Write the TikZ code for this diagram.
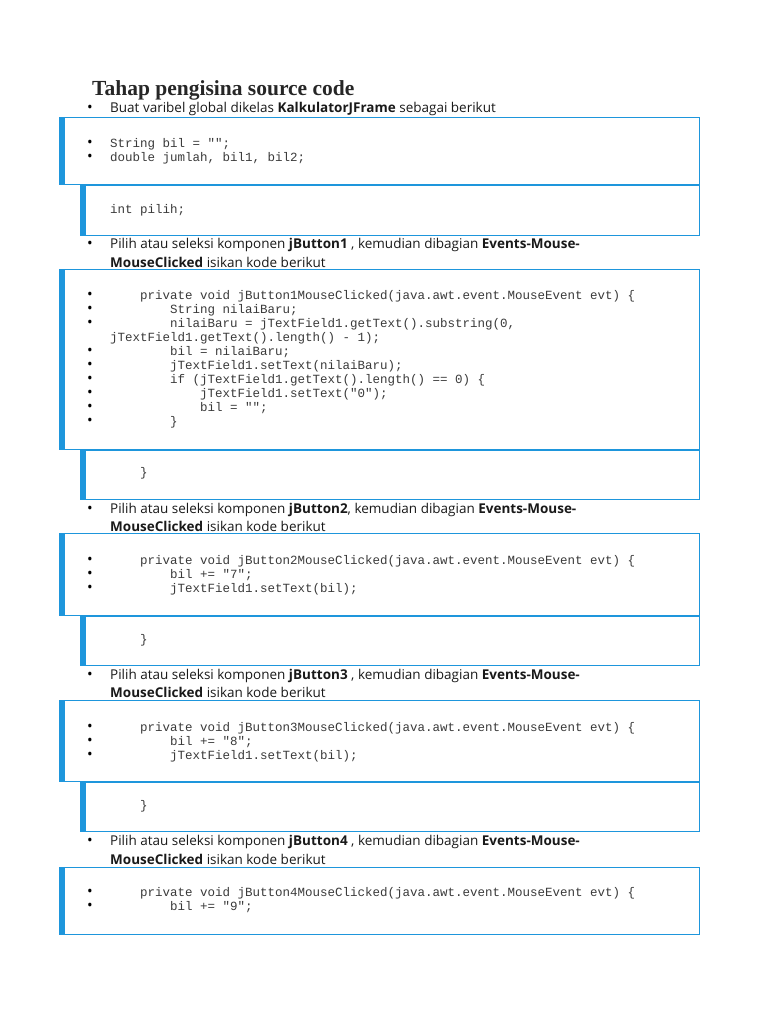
\documentclass[tikz,border=0pt]{standalone}
\usepackage{fontspec}
\setmainfont{Open Sans}
\newfontfamily\titlef{Liberation Serif}
\newfontfamily\codef{Liberation Mono}
\definecolor{bl}{HTML}{1E96DC}
\definecolor{cd}{HTML}{3A3A3A}
\begin{document}
\begin{tikzpicture}[x=1pt,y=-1pt,
  box/.style={draw=bl,line width=0.8pt},
  code/.style={anchor=west,inner sep=0,font=\codef\fontsize{12.5}{12.5}\selectfont,text=cd},
  txt/.style={anchor=west,inner sep=0,font=\fontsize{13.5}{13.5}\selectfont,text=black!90},
  bul/.style={anchor=center,inner sep=0,font=\fontsize{15}{15}\selectfont}]
\useasboundingbox (0,0) rectangle (768,1024);
\node[anchor=west,inner sep=0,font=\titlef\bfseries\fontsize{21.5}{21.5}\selectfont,text=black!85] (title) at (92,90) {Tahap pengisina source code};
% helper macros
\newcommand{\bigbox}[3]{\draw[box] (59,#1) rectangle (699,#2); \fill[bl] (59,#1) rectangle (65,#2); \coordinate (#3) at (59,#1);}
\newcommand{\smallbox}[3]{\draw[box] (80,#1) rectangle (699,#2); \fill[bl] (80,#1) rectangle (86,#2); \coordinate (#3) at (80,#1);}
\newcommand{\cl}[3]{\node[bul] at (90,#1) {•}; \node[code] at (#2,#1) {#3};}
\newcommand{\bt}[2]{\node[bul] at (90,#1) {•}; \node[txt] at (110,#1) {#2};}

\bt{109}{Buat varibel global dikelas \textbf{KalkulatorJFrame} sebagai berikut}
\bigbox{117}{184}{b1}
\cl{144}{110}{String bil = "";}
\cl{158}{110}{double jumlah, bil1, bil2;}
\smallbox{185}{235}{b2}
\node[code] at (110,210) {int pilih;};

\bt{245}{Pilih atau seleksi komponen \textbf{jButton1} , kemudian dibagian \textbf{Events-Mouse-}}
\node[txt] at (110,262) {\textbf{MouseClicked} isikan kode berikut};
\bigbox{269}{449}{b3}
\cl{296}{140}{private void jButton1MouseClicked(java.awt.event.MouseEvent evt) \{}
\cl{310}{170}{String nilaiBaru;}
\cl{324}{170}{nilaiBaru = jTextField1.getText().substring(0,}
\node[code] at (110,338) {jTextField1.getText().length() - 1);};
\cl{352}{170}{bil = nilaiBaru;}
\cl{366}{170}{jTextField1.setText(nilaiBaru);}
\cl{380}{170}{if (jTextField1.getText().length() == 0) \{}
\cl{394}{200}{jTextField1.setText("0");}
\cl{408}{200}{bil = "";}
\cl{422}{170}{\}}
\smallbox{450}{499}{b4}
\node[code] at (140,473) {\}};

\bt{510}{Pilih atau seleksi komponen \textbf{jButton2}, kemudian dibagian \textbf{Events-Mouse-}}
\node[txt] at (110,526) {\textbf{MouseClicked} isikan kode berikut};
\bigbox{533}{615}{b5}
\cl{561}{140}{private void jButton2MouseClicked(java.awt.event.MouseEvent evt) \{}
\cl{575}{170}{bil += "7";}
\cl{589}{170}{jTextField1.setText(bil);}
\smallbox{616}{665}{b6}
\node[code] at (140,640) {\}};

\bt{676}{Pilih atau seleksi komponen \textbf{jButton3} , kemudian dibagian \textbf{Events-Mouse-}}
\node[txt] at (110,692) {\textbf{MouseClicked} isikan kode berikut};
\bigbox{700}{781}{b7}
\cl{728}{140}{private void jButton3MouseClicked(java.awt.event.MouseEvent evt) \{}
\cl{742}{170}{bil += "8";}
\cl{756}{170}{jTextField1.setText(bil);}
\smallbox{782}{831}{b8}
\node[code] at (140,806) {\}};

\bt{842}{Pilih atau seleksi komponen \textbf{jButton4} , kemudian dibagian \textbf{Events-Mouse-}}
\node[txt] at (110,859) {\textbf{MouseClicked} isikan kode berikut};
\bigbox{867}{934}{b9}
\cl{893}{140}{private void jButton4MouseClicked(java.awt.event.MouseEvent evt) \{}
\cl{907}{170}{bil += "9";}
\end{tikzpicture}
\end{document}
